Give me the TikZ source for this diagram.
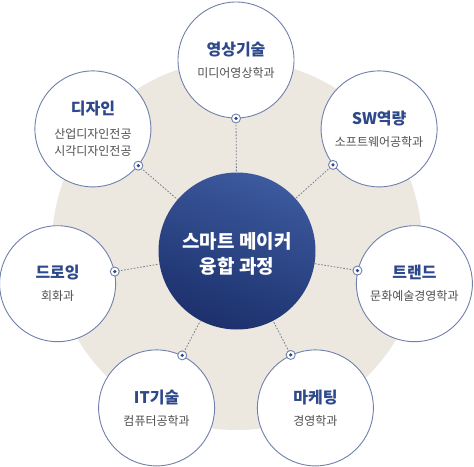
\documentclass[tikz,border=0pt]{standalone}
\usepackage{fontspec}
\setmainfont{Noto Sans CJK KR}
\usepackage{xcolor}
\definecolor{SandBeige}{RGB}{236,231,223}
\definecolor{FrameBlue}{RGB}{112,128,172}
\definecolor{TitleNavy}{RGB}{46,72,140}
\definecolor{SubGray}{RGB}{80,80,80}
\definecolor{CoreTop}{RGB}{60,90,158}
\definecolor{CoreBottom}{RGB}{28,48,108}
\definecolor{LinkGray}{RGB}{118,122,134}
\usepackage{tikz}
\usetikzlibrary{
    arrows.meta,
    positioning,
    calc
}
\tikzset{
    satellite/.style={
        circle,
        draw=FrameBlue,
        fill=white,
        line width=0.9pt,
        minimum size=116pt,
        inner sep=0pt,
        align=center,
        font=\fontsize{12}{12}\selectfont
    },
    pinring/.style={
        circle,
        draw=FrameBlue,
        fill=white,
        line width=0.9pt,
        minimum size=9pt,
        inner sep=0pt,
        path picture={
            \fill[TitleNavy] (path picture bounding box.center) circle (1.8pt);
        }
    },
    link/.style={
        LinkGray,
        line width=0.8pt,
        dash pattern=on 1.6pt off 1.6pt
    }
}
\newcommand{\majortitle}[1]{{\fontsize{16}{12}\selectfont\bfseries\color{TitleNavy}#1}}
\newcommand{\minorline}[1]{{\fontsize{12}{12}\selectfont\color{SubGray}#1}}

\begin{document}
\begin{tikzpicture}[x=1pt,y=-1pt]
%
    \fill[white] (0,0) rectangle (474,466);
    \useasboundingbox (0,0) rectangle (474,466);
%
    \fill[
        SandBeige
    ]
    (237,245) circle (185);
%
    \node[
        circle,
        minimum size=157pt,
        inner sep=0pt
    ]
    (core) at (237,251) {};
%
    \node[satellite] (video)   at (236.0,60.0)   {\majortitle{영상기술}\\[10pt]\minorline{미디어영상학과}};
    \node[satellite] (soft)    at (379.1,128.9)  {\majortitle{SW역량}\\[10pt]\minorline{소프트웨어공학과}};
    \node[satellite] (trend)   at (414.4,283.7)  {\majortitle{트랜드}\\[10pt]\minorline{문화예술경영학과}};
    \node[satellite] (market)  at (315.4,407.9)  {\majortitle{마케팅}\\[10pt]\minorline{경영학과}};
    \node[satellite] (itech)   at (156.6,407.9)  {\majortitle{IT기술}\\[10pt]\minorline{컴퓨터공학과}};
    \node[satellite] (drawing) at (57.6,283.7)   {\majortitle{드로잉}\\[10pt]\minorline{회화과}};
    \node[satellite] (design)  at (92.9,128.9)   {\majortitle{디자인}\\[12pt]\minorline{산업디자인전공}\\[5pt]\minorline{시각디자인전공}};
%
    \coordinate (video-pin)   at (video.270);
    \coordinate (soft-pin)    at (soft.218.57);
    \coordinate (trend-pin)   at (trend.167.14);
    \coordinate (market-pin)  at (market.115.71);
    \coordinate (itech-pin)   at (itech.64.29);
    \coordinate (drawing-pin) at (drawing.12.86);
    \coordinate (design-pin)  at (design.321.43);
%
    \draw[link] (video-pin)   -- (core);
    \draw[link] (soft-pin)    -- (core);
    \draw[link] (trend-pin)   -- (core);
    \draw[link] (market-pin)  -- (core);
    \draw[link] (itech-pin)   -- (core);
    \draw[link] (drawing-pin) -- (core);
    \draw[link] (design-pin)  -- (core);
%
    \shade[
        top color=CoreTop,
        bottom color=CoreBottom,
        shading angle=-20
    ]
    (core.center) circle (78.5);
%
    \node[
        white,
        align=center,
        font=\fontsize{19}{25}\selectfont\bfseries
    ]
    (core-label) at ($(core.center)+(0,3)$) {
        스마트 메이커\\
        융합 과정
    };
%
    \node[pinring] (video-ring)   at (video-pin)   {};
    \node[pinring] (soft-ring)    at (soft-pin)    {};
    \node[pinring] (trend-ring)   at (trend-pin)   {};
    \node[pinring] (market-ring)  at (market-pin)  {};
    \node[pinring] (itech-ring)   at (itech-pin)   {};
    \node[pinring] (drawing-ring) at (drawing-pin) {};
    \node[pinring] (design-ring)  at (design-pin)  {};
%
\end{tikzpicture}
\end{document}
